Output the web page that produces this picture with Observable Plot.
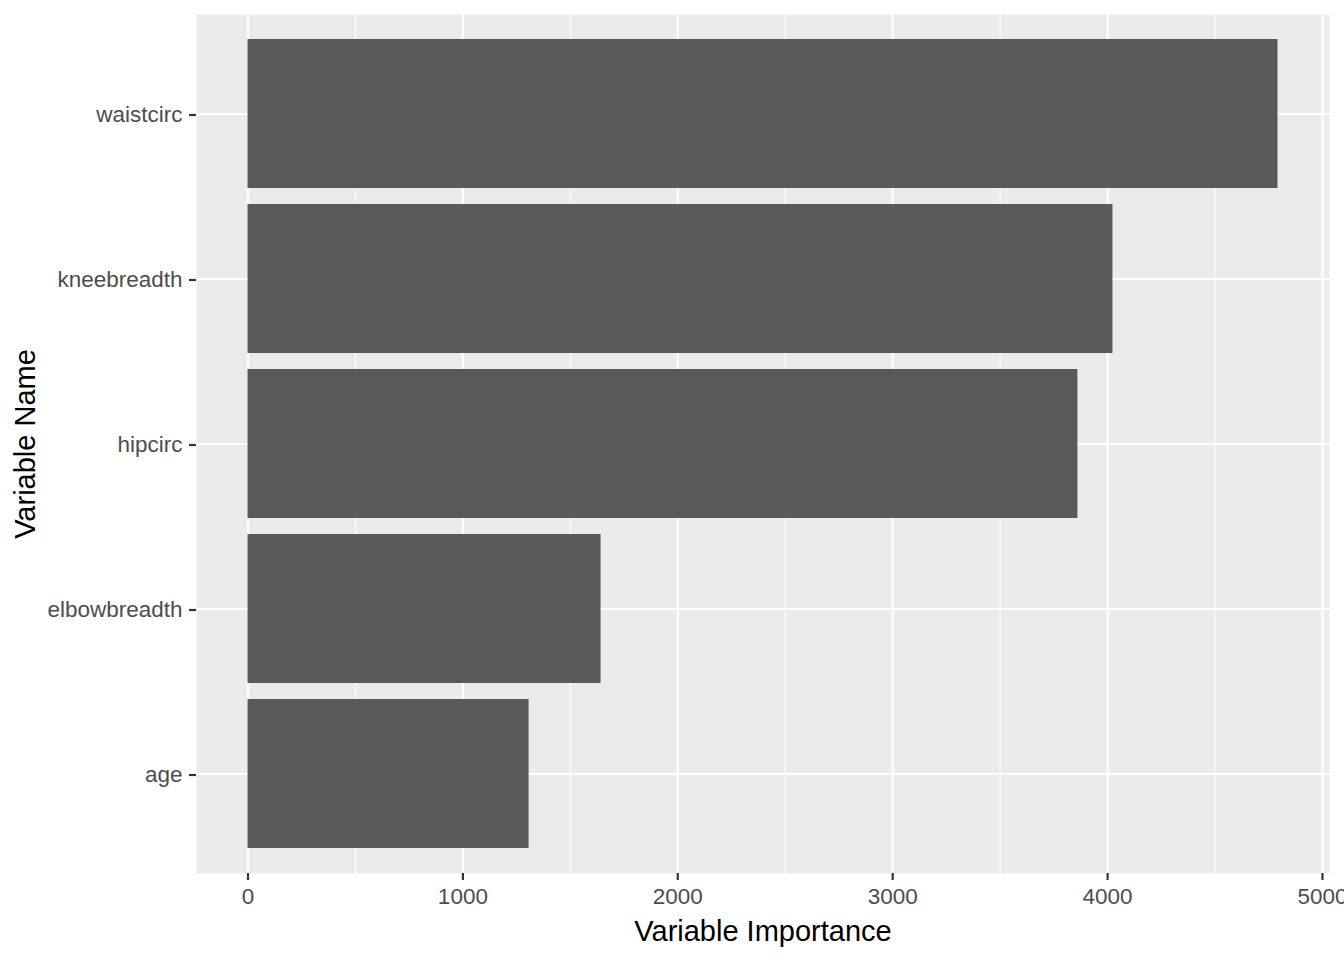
<!DOCTYPE html>
<html>
<head>
<meta charset="utf-8">
<script src="https://cdn.jsdelivr.net/npm/d3@7"></script>
<script src="https://cdn.jsdelivr.net/npm/@observablehq/plot@0.6"></script>
<style>
  html, body { margin: 0; padding: 0; background: white; }
</style>
</head>
<body>
<div id="chart"></div>
<script>
const names = ["waistcirc", "kneebreadth", "hipcirc", "elbowbreadth", "age"];
const importance = [4793, 4025, 3862, 1643, 1308];
const xTicks = [0, 1000, 2000, 3000, 4000, 5000];
const xMinorTicks = [500, 1500, 2500, 3500, 4500];

const data = names.map((n, i) => ({name: n, value: importance[i]}));
const maxV = d3.max(importance);

const font = "'Liberation Sans', Arial, Helvetica, sans-serif";

const chart = Plot.plot({
  width: 1344,
  height: 960,
  marginLeft: 196,
  marginRight: 15,
  marginTop: 14,
  marginBottom: 87,
  style: {fontFamily: font, color: "#4D4D4D", background: "white", overflow: "visible"},
  x: {domain: [-0.05 * maxV, 1.05 * maxV], label: null},
  y: {type: "band", domain: names, paddingInner: 0.1, paddingOuter: 0.15, label: null},
  marks: [
    Plot.frame({fill: "#EBEBEB", stroke: "none"}),
    Plot.gridX(xMinorTicks, {stroke: "white", strokeOpacity: 1, strokeWidth: 1.1}),
    Plot.gridX(xTicks, {stroke: "white", strokeOpacity: 1, strokeWidth: 2.2}),
    Plot.gridY({stroke: "white", strokeOpacity: 1, strokeWidth: 2.2}),
    Plot.barX(data, {x: "value", y: "name", fill: "#595959"}),
    Plot.axisX(xTicks, {
      tickSize: 7, tickPadding: 8, stroke: "#333333", strokeWidth: 2.2,
      fill: "#4D4D4D", fontSize: 22.5, label: null, tickFormat: d => String(d)
    }),
    Plot.axisX([], {
      tickSize: 0, fill: "black", fontSize: 29,
      label: "Variable Importance", labelAnchor: "center", labelOffset: 67, labelArrow: "none"
    }),
    Plot.axisY({
      tickSize: 7, tickPadding: 7, stroke: "#333333", strokeWidth: 2.2,
      fill: "#4D4D4D", fontSize: 22.5, label: null, dy: 1
    }),
    Plot.axisY([], {
      tickSize: 0, fill: "black", fontSize: 29,
      label: "Variable Name", labelAnchor: "center", labelOffset: 182, labelArrow: "none"
    })
  ]
});
document.getElementById("chart").appendChild(chart);
</script>
</body>
</html>
